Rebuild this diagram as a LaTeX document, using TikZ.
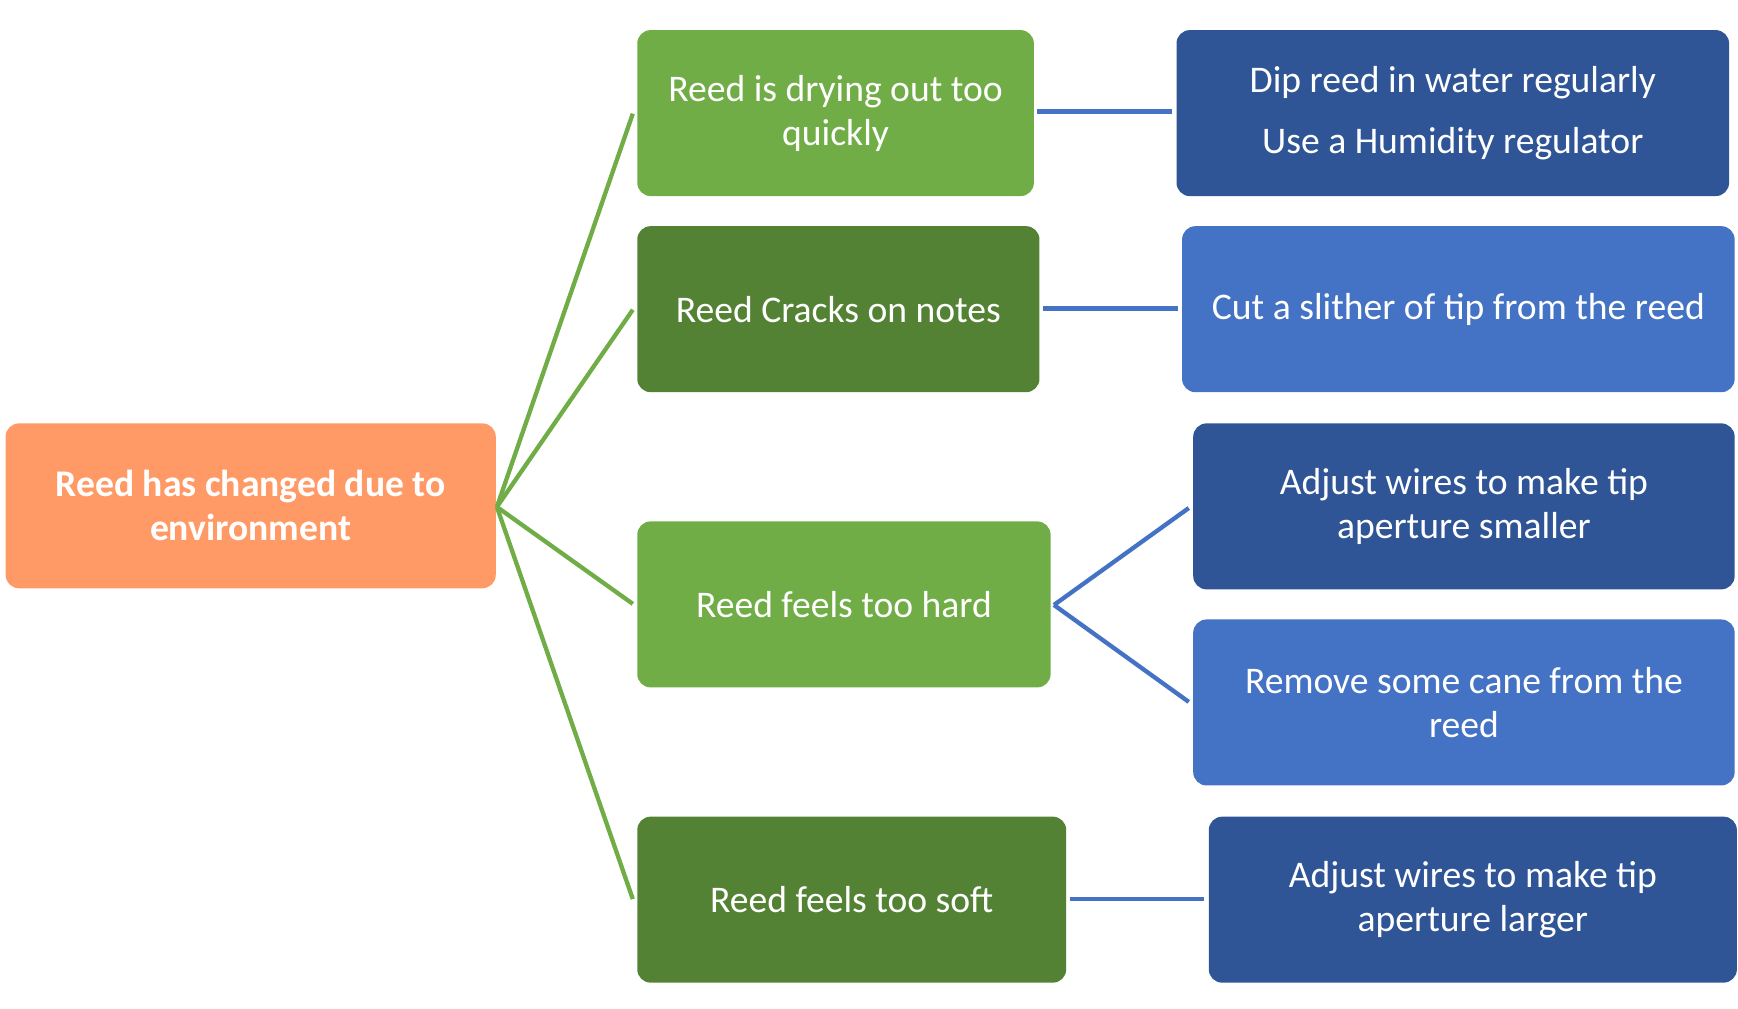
\documentclass[tikz,border=0pt]{standalone}
\usepackage{fontspec}
\setmainfont{Carlito}
\usetikzlibrary{calc}
\definecolor{rootorange}{HTML}{FF9A66}
\definecolor{lgreen}{HTML}{70AD47}
\definecolor{dgreen}{HTML}{548235}
\definecolor{dblue}{HTML}{2F5597}
\definecolor{lblue}{HTML}{4472C4}
\begin{document}
\begin{tikzpicture}[x=0.01cm,y=-0.01cm,
    box/.style={rounded corners=0.12cm, text=white, align=center, inner sep=0pt,
        font=\fontsize{9.6}{11.2}\selectfont},
    glink/.style={lgreen, line width=1.1pt},
    blink/.style={lblue, line width=1.1pt}]
    \useasboundingbox (0,0) rectangle (1560,905);

    % boxes drawn as rectangles, text as nodes
    \newcommand{\mybox}[6]{%
        \fill[#5, rounded corners=0.12cm] (#1,#2) rectangle (#3,#4);
        \node[box] (#6) at ({(#1+#3)/2},{(#2+#4)/2}) {};
    }
    \mybox{5}{380}{445}{528}{rootorange}{root}
    \mybox{572}{27}{928}{176}{lgreen}{dry}
    \mybox{572}{203}{933}{352}{dgreen}{crack}
    \mybox{572}{468}{943}{617}{lgreen}{hard}
    \mybox{572}{733}{957}{882}{dgreen}{soft}
    \mybox{1056}{27}{1552}{176}{dblue}{dip}
    \mybox{1061}{203}{1557}{352}{lblue}{cut}
    \mybox{1071}{380}{1557}{529}{dblue}{small}
    \mybox{1071}{556}{1557}{705}{lblue}{cane}
    \mybox{1085}{733}{1559}{882}{dblue}{large}

    \node[box, font=\fontsize{9.6}{11.2}\selectfont\bfseries] at (root) {Reed has changed due to\\environment};
    \node[box] at (dry) {Reed is drying out too\\quickly};
    \node[box] at (crack) {Reed Cracks on notes};
    \node[box] at (hard) {Reed feels too hard};
    \node[box] at (soft) {Reed feels too soft};
    \node[box, font=\fontsize{9.6}{15.5}\selectfont] at (dip) {Dip reed in water regularly\\Use a Humidity regulator};
    \node[box] at (cut) {Cut a slither of tip from the reed};
    \node[box] at (small) {Adjust wires to make tip\\aperture smaller};
    \node[box] at (cane) {Remove some cane from the\\reed};
    \node[box] at (large) {Adjust wires to make tip\\aperture larger};

    % connectors
    \coordinate (hub) at (446,455);
    \foreach \n/\y in {dry/102, crack/278, hard/542, soft/807}
        \draw[glink] (hub) -- (568,\y);
    \draw[blink] (931,100) -- (1052,100);
    \draw[blink] (936,277) -- (1057,277);
    \draw[blink] (946,543) -- (1067,456);
    \draw[blink] (946,543) -- (1067,630);
    \draw[blink] (960,807) -- (1081,807);
\end{tikzpicture}
\end{document}
